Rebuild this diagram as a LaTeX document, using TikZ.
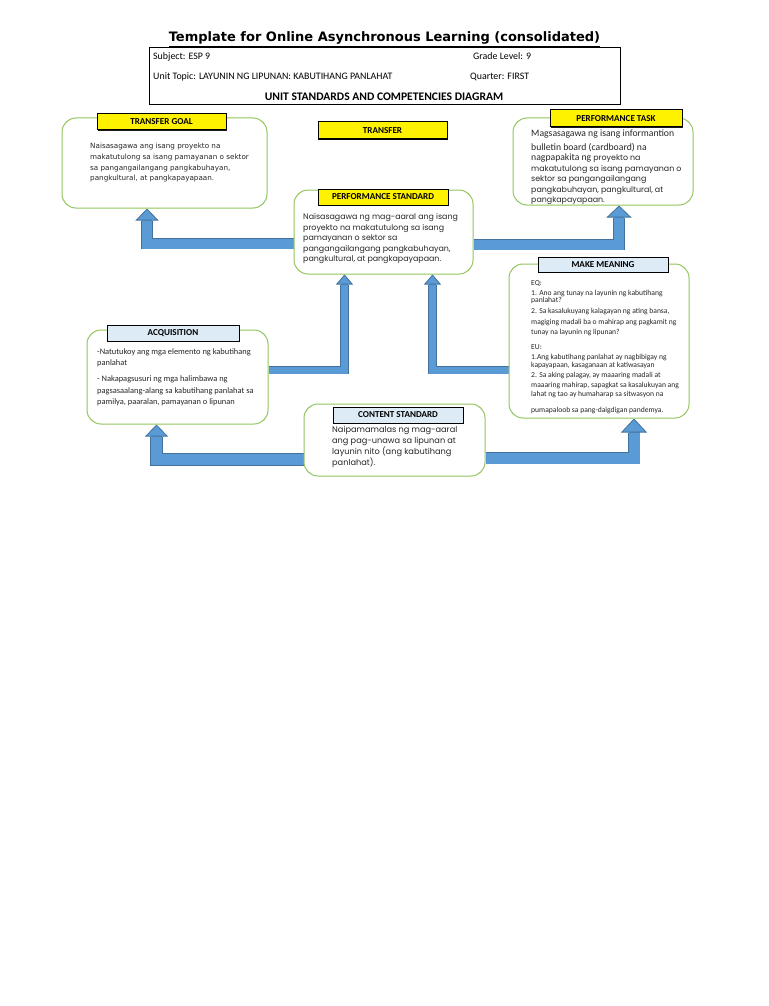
\documentclass[tikz,border=0pt]{standalone}
\usepackage{fontspec}
\setmainfont{Carlito}
\newfontfamily\carl{Carlito}
\newfontfamily\dvs{DejaVu Sans}
\newfontfamily\gothic{Poppins}
\usetikzlibrary{arrows.meta,shadows}
\pgfdeclarelayer{bg}
\pgfsetlayers{bg,main}
\definecolor{gline}{HTML}{92C65F}
\definecolor{afill}{HTML}{5B9BD5}
\definecolor{aline}{HTML}{41719C}
\definecolor{lblue}{HTML}{DDEBF7}
\definecolor{tgray}{HTML}{262626}
\begin{document}
\begin{tikzpicture}[x=1pt,y=-1pt,
  gbox/.style={draw=gline, line width=1pt, rounded corners=14pt, fill=white, inner sep=0},
  lab/.style={draw=black, line width=1pt, inner sep=0, font=\carl\bfseries\fontsize{9.1}{10}\selectfont,
    drop shadow={shadow xshift=0.8pt, shadow yshift=-0.8pt, fill=black, opacity=0.9}},
  ylab/.style={lab, fill=yellow},
  blab/.style={lab, fill=lblue},
  txt/.style={anchor=north west, inner sep=0, align=left, text=tgray},
  hd/.style={anchor=base west, inner sep=0, font=\carl\fontsize{9.9}{11}\selectfont},
  bar/.style n args={4}{line width=#1, draw=afill,
    preaction={draw=aline, line width=#2, arrows=-, shorten >=#4},
    arrows={-{Triangle[width=#3, length=#4, line width=0.8pt, fill=afill, color=aline]}}}
]
\useasboundingbox (0,0) rectangle (768,1006);

% title and header
\node[inner sep=0, anchor=base, font=\dvs\bfseries\fontsize{13}{15}\selectfont] (title) at (384.5,41.7)
  {\underline{Template for Online Asynchronous Learning (consolidated)}};
\node[draw=black, line width=0.9pt, minimum width=471pt, minimum height=57pt, inner sep=0] (hdr) at (384.5,75.5) {};
\node[hd] (subj) at (153,60) {Subject: ESP 9};
\node[hd] (grade) at (473,60) {Grade Level: 9};
\node[hd] (topic) at (153,80) {Unit Topic: LAYUNIN NG LIPUNAN: KABUTIHANG PANLAHAT};
\node[hd] (qtr) at (470,80) {Quarter: FIRST};
\node[inner sep=0, anchor=base, font=\carl\bfseries\fontsize{11.6}{13}\selectfont] (ustd) at (384,100.4)
  {UNIT STANDARDS AND COMPETENCIES DIAGRAM};

% boxes
\node[gbox, minimum width=205pt, minimum height=90pt] (tg) at (164.5,163) {};
\node[gbox, minimum width=179pt, minimum height=84pt] (ps) at (383.5,232) {};
\node[gbox, minimum width=180pt, minimum height=87pt] (pt) at (603,161.5) {};
\node[gbox, minimum width=180pt, minimum height=154pt] (mm) at (599,341) {};
\node[gbox, minimum width=181pt, minimum height=94pt] (acq) at (177.5,377) {};
\node[gbox, minimum width=181pt, minimum height=72pt] (cs) at (394.5,440) {};

% texts
\node[txt, font=\dvs\fontsize{7.2}{10.9}\selectfont] (tgtx) at (90,142.6)
  {Naisasagawa ang isang proyekto na\\makatutulong sa isang pamayanan o sektor\\sa pangangailangang pangkabuhayan,\\pangkultural, at pangkapayapaan.};
\node[txt, font=\gothic\fontsize{7.9}{10.5}\selectfont] (pstx) at (303,213.3)
  {Naisasagawa ng mag-aaral ang isang\\proyekto na makatutulong sa isang\\pamayanan o sektor sa\\pangangailangang pangkabuhayan,\\pangkultural, at pangkapayapaan.};
\begin{scope}
\clip (505,110) rectangle (700,204);
\node[txt, font=\gothic\fontsize{7.9}{10.5}\selectfont] (pttx) at (531,130)
  {{\carl\fontsize{9.7}{10.5}\selectfont Magsasagawa ng isang informantion}\\[2.9pt]
   {\carl\fontsize{9.7}{10.5}\selectfont bulletin board (cardboard) na}\\
   {\carl\fontsize{9.7}{10.5}\selectfont nagpapakita ng} proyekto na\\
   makatutulong sa isang pamayanan o\\
   sektor sa pangangailangang\\
   pangkabuhayan, pangkultural, at\\
   pangkapayapaan.};
\end{scope}
\node[txt, font=\carl\fontsize{7.6}{9.5}\selectfont] (mmtx) at (531,280.6)
  {EQ:\\[0.2pt]
   1. Ano ang tunay na layunin ng kabutihang\\[-2.2pt]
   panlahat?\\[1.2pt]
   2. Sa kasalukuyang kalagayan ng ating bansa,\\[1.5pt]
   magiging madali ba o mahirap ang pagkamit ng\\[0.5pt]
   tunay na layunin ng lipunan?\\[5.8pt]
   EU:\\
   1.Ang kabutihang panlahat ay nagbibigay ng\\[-1pt]
   kapayapaan, kasaganaan at katiwasayan\\[0.5pt]
   2. Sa aking palagay, ay maaaring madali at\\
   maaaring mahirap, sapagkat sa kasalukuyan ang\\
   lahat ng tao ay humaharap sa sitwasyon na\\[6pt]
   pumapaloob sa pang-daigdigan pandemya.};
\node[txt, font=\carl\fontsize{8.4}{11.3}\selectfont] (acqtx) at (97,348.2)
  {-Natutukoy ang mga elemento ng kabutihang\\
   panlahat\\[5pt]
   - Nakapagsusuri ng mga halimbawa ng\\
   pagsasaalang-alang sa kabutihang panlahat sa\\
   pamilya, paaralan, pamayanan o lipunan};
\node[txt, font=\gothic\fontsize{8.2}{11}\selectfont] (cstx) at (332,426.2)
  {Naipamamalas ng mag-aaral\\ang pag-unawa sa lipunan at\\layunin nito (ang kabutihang\\panlahat).};

% labels
\node[ylab, minimum width=129pt, minimum height=16pt] (tgl) at (161.5,122) {TRANSFER GOAL};
\node[ylab, minimum width=129pt, minimum height=17pt] (trl) at (382.5,130.5) {TRANSFER};
\node[ylab, minimum width=130pt, minimum height=16pt] (psl) at (383,197) {PERFORMANCE STANDARD};
\node[ylab, minimum width=132pt, minimum height=17pt] (ptl) at (616,118.5) {PERFORMANCE TASK};
\node[blab, minimum width=130pt, minimum height=15pt] (mml) at (603,264.5) {MAKE MEANING};
\node[blab, minimum width=132pt, minimum height=16pt] (acql) at (173,333) {ACQUISITION};
\node[blab, minimum width=130pt, minimum height=16pt] (csl) at (398,415) {CONTENT STANDARD};

% block arrows
\begin{pgfonlayer}{bg}
\fill[white] (0,0) rectangle (768,1006);
\coordinate (k1) at (147,243.5);
\coordinate (k2) at (619,244.5);
\coordinate (k3) at (344.5,370);
\coordinate (k4) at (432.5,370);
\coordinate (k5) at (156.5,459.5);
\coordinate (k6) at (634,458);
\draw[bar={10pt}{11.4pt}{23pt}{12pt}] (ps.west |- k1) -| (tg.south -| k1);
\draw[bar={10pt}{11.4pt}{25pt}{12pt}] (ps.east |- k2) -| (pt.south -| k2);
\draw[bar={7pt}{8.4pt}{17pt}{10pt}] (acq.east |- k3) -| (ps.south -| k3);
\draw[bar={7pt}{8.4pt}{17pt}{10pt}] (mm.west |- k4) -| (ps.south -| k4);
\draw[bar={11pt}{12.4pt}{23pt}{12pt}] (cs.west |- k5) -| (acq.south -| k5);
\draw[bar={11pt}{12.4pt}{26pt}{14pt}] (cs.east |- k6) -| (mm.south -| k6);
\end{pgfonlayer}
\end{tikzpicture}
\end{document}
